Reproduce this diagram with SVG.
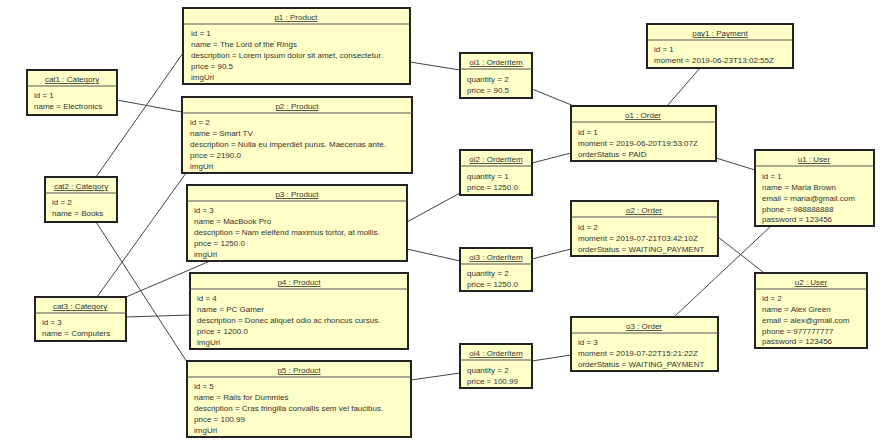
<svg xmlns="http://www.w3.org/2000/svg" width="886" height="443" viewBox="0 0 886 443">
<style>
.b{fill:#ffffc8;stroke:#222;stroke-width:2}
.s{stroke:#555;stroke-width:1}
.t{font-family:"Liberation Sans",Arial,sans-serif;font-size:8px;fill:#333}
.h{text-anchor:middle;text-decoration:underline}
.c line{stroke:#444;stroke-width:1}
</style>
<rect width="886" height="443" fill="#fff"/>
<g class="c">
<line x1="117" y1="100" x2="182" y2="112"/>
<line x1="96" y1="177" x2="183" y2="53"/>
<line x1="96" y1="222" x2="187" y2="362"/>
<line x1="97" y1="297" x2="186" y2="173"/>
<line x1="126" y1="297" x2="210" y2="261"/>
<line x1="126" y1="317" x2="190" y2="315"/>
<line x1="410" y1="62" x2="460" y2="70"/>
<line x1="407" y1="222" x2="460" y2="193"/>
<line x1="407" y1="249" x2="460" y2="261"/>
<line x1="411" y1="380" x2="460" y2="373"/>
<line x1="532" y1="89" x2="574" y2="106"/>
<line x1="532" y1="163" x2="571" y2="153"/>
<line x1="532" y1="259" x2="571" y2="249"/>
<line x1="532" y1="361" x2="571" y2="355"/>
<line x1="700" y1="68" x2="667" y2="106"/>
<line x1="716" y1="158" x2="755" y2="170"/>
<line x1="718" y1="237" x2="763" y2="272"/>
<line x1="674" y1="317" x2="772" y2="225"/>
</g>
<g id="p1"><rect class="b" x="183" y="8" width="227" height="76"/><line class="s" x1="183" y1="24" x2="410" y2="24"/><text class="t h" x="296" y="20">p1 : Product</text><text class="t" x="191"><tspan x="191" y="36">id = 1</tspan><tspan x="191" y="47">name = The Lord of the Rings</tspan><tspan x="191" y="58">description = Lorem ipsum dolor sit amet, consectetur.</tspan><tspan x="191" y="69">price = 90.5</tspan><tspan x="191" y="80">imgUrl</tspan></text></g>
<g id="p2"><rect class="b" x="182" y="97" width="230" height="76"/><line class="s" x1="182" y1="113" x2="412" y2="113"/><text class="t h" x="297" y="109">p2 : Product</text><text class="t"><tspan x="190" y="125">id = 2</tspan><tspan x="190" y="136">name = Smart TV</tspan><tspan x="190" y="147">description = Nulla eu imperdiet purus. Maecenas ante.</tspan><tspan x="190" y="158">price = 2190.0</tspan><tspan x="190" y="169">imgUrl</tspan></text></g>
<g id="p3"><rect class="b" x="187" y="185" width="220" height="76"/><line class="s" x1="187" y1="201" x2="407" y2="201"/><text class="t h" x="297" y="197">p3 : Product</text><text class="t"><tspan x="194" y="213">id = 3</tspan><tspan x="194" y="224">name = MacBook Pro</tspan><tspan x="194" y="235">description = Nam eleifend maximus tortor, at mollis.</tspan><tspan x="194" y="246">price = 1250.0</tspan><tspan x="194" y="257">imgUrl</tspan></text></g>
<g id="p4"><rect class="b" x="190" y="273" width="218" height="76"/><line class="s" x1="190" y1="289" x2="408" y2="289"/><text class="t h" x="299" y="285">p4 : Product</text><text class="t"><tspan x="197" y="301">id = 4</tspan><tspan x="197" y="312">name = PC Gamer</tspan><tspan x="197" y="323">description = Donec aliquet odio ac rhoncus cursus.</tspan><tspan x="197" y="334">price = 1200.0</tspan><tspan x="197" y="345">imgUrl</tspan></text></g>
<g id="p5"><rect class="b" x="187" y="361" width="224" height="76"/><line class="s" x1="187" y1="377" x2="411" y2="377"/><text class="t h" x="299" y="373">p5 : Product</text><text class="t"><tspan x="194" y="389">id = 5</tspan><tspan x="194" y="400">name = Rails for Dummies</tspan><tspan x="194" y="411">description = Cras fringilla convallis sem vel faucibus.</tspan><tspan x="194" y="422">price = 100.99</tspan><tspan x="194" y="433">imgUrl</tspan></text></g>
<g id="cat1"><rect class="b" x="27" y="70" width="90" height="45"/><line class="s" x1="27" y1="86" x2="117" y2="86"/><text class="t h" x="72" y="82">cat1 : Category</text><text class="t"><tspan x="34" y="98">id = 1</tspan><tspan x="34" y="109">name = Electronics</tspan></text></g>
<g id="cat2"><rect class="b" x="45" y="177" width="72" height="45"/><line class="s" x1="45" y1="193" x2="117" y2="193"/><text class="t h" x="81" y="189">cat2 : Category</text><text class="t"><tspan x="52" y="205">id = 2</tspan><tspan x="52" y="216">name = Books</tspan></text></g>
<g id="cat3"><rect class="b" x="35" y="297" width="91" height="44"/><line class="s" x1="35" y1="313" x2="126" y2="313"/><text class="t h" x="80" y="309">cat3 : Category</text><text class="t"><tspan x="42" y="325">id = 3</tspan><tspan x="42" y="336">name = Computers</tspan></text></g>
<g id="oi1"><rect class="b" x="460" y="53" width="72" height="45"/><line class="s" x1="460" y1="69" x2="532" y2="69"/><text class="t h" x="496" y="65">oi1 : OrderItem</text><text class="t"><tspan x="467" y="82">quantity = 2</tspan><tspan x="467" y="93">price = 90.5</tspan></text></g>
<g id="oi2"><rect class="b" x="460" y="150" width="72" height="45"/><line class="s" x1="460" y1="166" x2="532" y2="166"/><text class="t h" x="496" y="162">oi2 : OrderItem</text><text class="t"><tspan x="467" y="179">quantity = 1</tspan><tspan x="467" y="190">price = 1250.0</tspan></text></g>
<g id="oi3"><rect class="b" x="460" y="248" width="72" height="43"/><line class="s" x1="460" y1="264" x2="532" y2="264"/><text class="t h" x="496" y="260">oi3 : OrderItem</text><text class="t"><tspan x="467" y="276">quantity = 2</tspan><tspan x="467" y="287">price = 1250.0</tspan></text></g>
<g id="oi4"><rect class="b" x="460" y="344" width="72" height="44"/><line class="s" x1="460" y1="360" x2="532" y2="360"/><text class="t h" x="496" y="356">oi4 : OrderItem</text><text class="t"><tspan x="467" y="373">quantity = 2</tspan><tspan x="467" y="384">price = 100.99</tspan></text></g>
<g id="o1"><rect class="b" x="571" y="106" width="145" height="55"/><line class="s" x1="571" y1="122" x2="716" y2="122"/><text class="t h" x="643" y="118">o1 : Order</text><text class="t"><tspan x="578" y="135">id = 1</tspan><tspan x="578" y="146">moment = 2019-06-20T19:53:07Z</tspan><tspan x="578" y="157">orderStatus = PAID</tspan></text></g>
<g id="o2"><rect class="b" x="571" y="201" width="147" height="55"/><line class="s" x1="571" y1="217" x2="718" y2="217"/><text class="t h" x="644" y="213">o2 : Order</text><text class="t"><tspan x="578" y="230">id = 2</tspan><tspan x="578" y="241">moment = 2019-07-21T03:42:10Z</tspan><tspan x="578" y="252">orderStatus = WAITING_PAYMENT</tspan></text></g>
<g id="o3"><rect class="b" x="571" y="317" width="147" height="54"/><line class="s" x1="571" y1="333" x2="718" y2="333"/><text class="t h" x="644" y="329">o3 : Order</text><text class="t"><tspan x="578" y="345">id = 3</tspan><tspan x="578" y="356">moment = 2019-07-22T15:21:22Z</tspan><tspan x="578" y="367">orderStatus = WAITING_PAYMENT</tspan></text></g>
<g id="pay1"><rect class="b" x="647" y="24" width="146" height="44"/><line class="s" x1="647" y1="40" x2="793" y2="40"/><text class="t h" x="720" y="36">pay1 : Payment</text><text class="t"><tspan x="654" y="52">id = 1</tspan><tspan x="654" y="63">moment = 2019-06-23T13:02:55Z</tspan></text></g>
<g id="u1"><rect class="b" x="755" y="150" width="119" height="76"/><line class="s" x1="755" y1="166" x2="874" y2="166"/><text class="t h" x="814" y="162">u1 : User</text><text class="t"><tspan x="762" y="179">id = 1</tspan><tspan x="762" y="190">name = Maria Brown</tspan><tspan x="762" y="201">email = maria@gmail.com</tspan><tspan x="762" y="212">phone = 988888888</tspan><tspan x="762" y="222">password = 123456</tspan></text></g>
<g id="u2"><rect class="b" x="755" y="273" width="112" height="75"/><line class="s" x1="755" y1="289" x2="867" y2="289"/><text class="t h" x="811" y="285">u2 : User</text><text class="t"><tspan x="762" y="301">id = 2</tspan><tspan x="762" y="312">name = Alex Green</tspan><tspan x="762" y="323">email = alex@gmail.com</tspan><tspan x="762" y="334">phone = 977777777</tspan><tspan x="762" y="344">password = 123456</tspan></text></g>
</svg>
